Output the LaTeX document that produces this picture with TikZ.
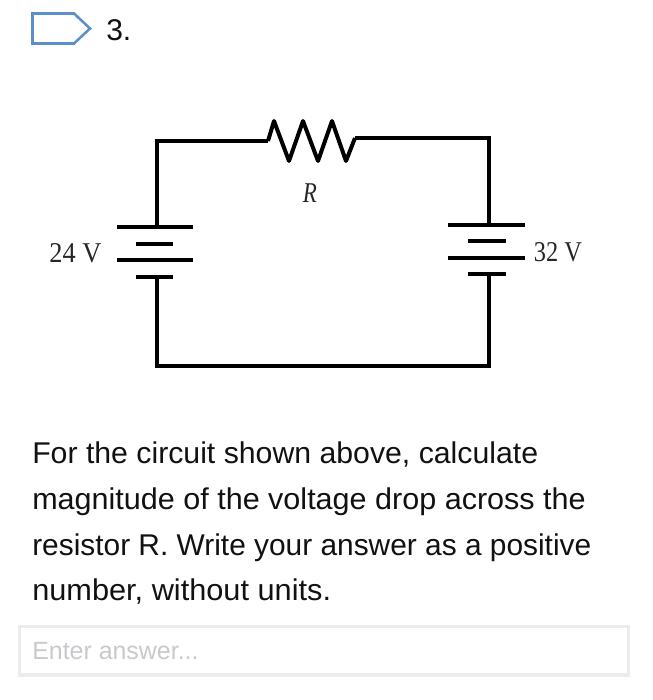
\documentclass[tikz,border=0pt]{standalone}
\usepackage{fontspec}
\setmainfont{Liberation Sans}
\newfontfamily\circuitfont{Liberation Serif}
\definecolor{tagblue}{HTML}{5B8FCB}
\definecolor{boxgrey}{HTML}{ECECEC}
\definecolor{hintgrey}{HTML}{C9C9CD}
\definecolor{inkblack}{HTML}{111111}
\tikzset{
  wire/.style={line width=3pt,draw=black,line join=miter},
  zigzag/.style={line width=3pt,draw=black,line join=round},
  plate/.style={line width=3pt,draw=black},
  circuitlabel/.style={inner sep=0pt,text=black!85,font=\circuitfont\fontsize{21.5}{24}\selectfont},
  bodytext/.style={anchor=base west,inner sep=0pt,text=inkblack,font=\fontsize{22.5}{26}\selectfont},
  hinttext/.style={anchor=base west,inner sep=0pt,text=hintgrey,font=\fontsize{18.7}{22}\selectfont},
  tagshape/.style={line width=1.9pt,draw=tagblue},
  answerbox/.style={line width=2.4pt,draw=boxgrey}
}
\begin{document}
\begin{tikzpicture}[x=0.75pt,y=-0.75pt]
\useasboundingbox (0,0) rectangle (653,700);
% tag
\draw[tagshape] (32.5,13.5) -- (74,13.5) -- (90,28.5) -- (74,43.5) -- (32.5,43.5) -- cycle;
\node[bodytext] (num) at (106,40) {3.};
% circuit corners
\coordinate (tl) at (157,141);
\coordinate (bl) at (157,366);
\coordinate (br) at (489,366);
\coordinate (rin) at (268,141);
\coordinate (rout) at (355,138);
\coordinate (lbt) at (157,227);
\coordinate (lbb) at (157,277);
\coordinate (rbt) at (489,225);
\coordinate (rbb) at (489,274);
% wires
\draw[wire] (lbt) -- (tl) -- (rin);
\draw[zigzag] (rin) -- (274,121) -- (289,161) -- (303,121) -- (318,161) -- (332,121) -- (346,161) -- (rout);
\draw[wire] (rout) -- (487,138);
\draw[wire] (489,136) -- (rbt);
\draw[wire] (lbb) -- (bl) -- (br) -- (rbb);
% left battery
\draw[plate] (117,227) -- (193,227);
\draw[plate] (136,244) -- (173,244);
\draw[plate] (117,260) -- (193,260);
\draw[plate] (136,277) -- (173,277);
% right battery
\draw[plate] (448,225) -- (525,225);
\draw[plate] (468,241) -- (506,241);
\draw[plate] (448,258) -- (525,258);
\draw[plate] (468,274) -- (506,274);
% labels
\node[circuitlabel,xscale=0.92] (vl) at (75.5,253) {24 V};
\node[circuitlabel,xscale=0.85] (vr) at (558,252) {32 V};
\node[circuitlabel,xscale=0.8,font=\circuitfont\itshape\fontsize{21.5}{24}\selectfont] (rlab) at (310,193) {R};
% text
\node[bodytext,xscale=1.008] (l1) at (32,463) {For the circuit shown above, calculate};
\node[bodytext,xscale=1.018] (l2) at (32,509) {magnitude of the voltage drop across the};
\node[bodytext,xscale=0.996] (l3) at (32,555) {resistor R. Write your answer as a positive};
\node[bodytext,xscale=1.024] (l4) at (32,600) {number, without units.};
% answer box
\draw[answerbox] (19.5,626.5) rectangle (628.5,675);
\node[hinttext] (hint) at (32,659) {Enter answer...};
\end{tikzpicture}
\end{document}
